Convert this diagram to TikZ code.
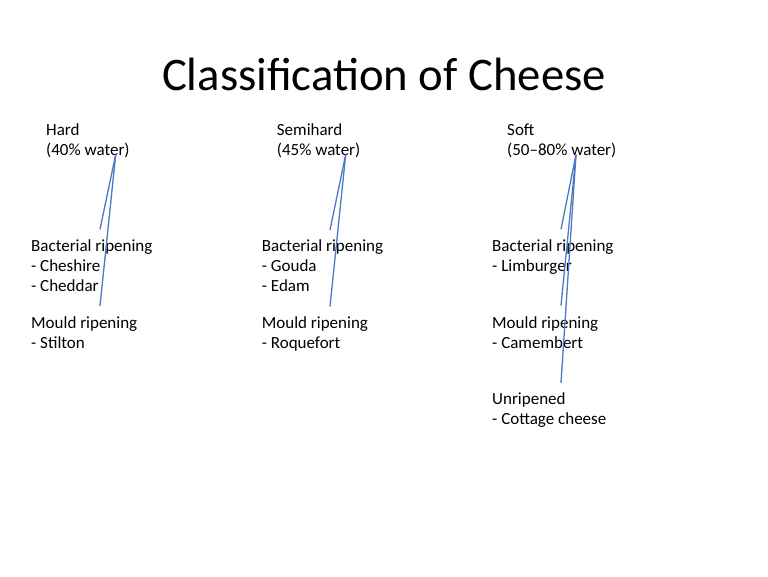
\documentclass[tikz,border=0pt]{standalone}
\usepackage{fontspec}
\setmainfont{Carlito}
\usetikzlibrary{positioning}
\definecolor{linkblue}{RGB}{74,122,196}
\tikzset{
  group/.style={anchor=base west, inner sep=0pt, align=left, font=\fontsize{17}{20}\selectfont},
  link/.style={draw=linkblue, line width=1.3pt}
}
\begin{document}
\begin{tikzpicture}[x=1pt, y=-1pt]
\useasboundingbox (0,0) rectangle (768,576);

\node [anchor=base, inner sep=0pt, font=\fontsize{46.7}{50}\selectfont] (title) at (384,90) {Classification of Cheese};

% hard cheese (base = last line)
\node [group] (hard) at (46,155.7) {Hard\\(40\% water)};
\node [group] (hardbact) at (31,291.7) {Bacterial ripening\\- Cheshire\\- Cheddar};
\node [group] (hardmould) at (31,348) {Mould ripening\\- Stilton};

% semihard cheese
\node [group] (semi) at (276.7,155.7) {Semihard\\(45\% water)};
\node [group] (semibact) at (261.7,291.7) {Bacterial ripening\\- Gouda\\- Edam};
\node [group] (semimould) at (261.7,348) {Mould ripening\\- Roquefort};

% soft cheese
\node [group] (soft) at (507,155.7) {Soft\\(50--80\% water)};
\node [group] (softbact) at (492,271.7) {Bacterial ripening\\- Limburger};
\node [group] (softmould) at (492,348) {Mould ripening\\- Camembert};
\node [group] (softunrip) at (492,424) {Unripened\\- Cottage cheese};

\coordinate (hardtop) at (115.7,154.5);
\coordinate (semitop) at (345.7,154.5);
\coordinate (softtop) at (576,154.5);

\coordinate (hardb) at (100,229.3);
\coordinate (hardm) at (100,306);
\coordinate (semib) at (330,230);
\coordinate (semim) at (330,306.5);
\coordinate (softb) at (561,229.3);
\coordinate (softm) at (561,305.5);
\coordinate (softu) at (561,383);

\draw [link] (hardtop) -- (hardb);
\draw [link] (hardtop) -- (hardm);
\draw [link] (semitop) -- (semib);
\draw [link] (semitop) -- (semim);
\draw [link] (softtop) -- (softb);
\draw [link] (softtop) -- (softm);
\draw [link] (softtop) -- (softu);

\end{tikzpicture}
\end{document}
